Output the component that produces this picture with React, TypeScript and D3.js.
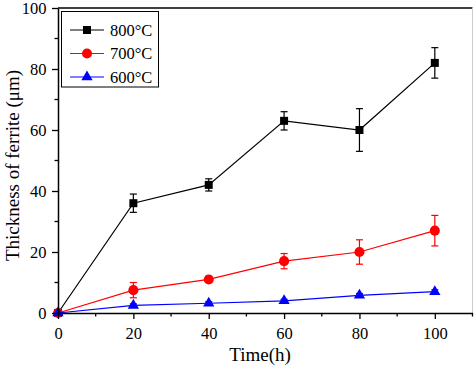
import React, { useEffect, useRef } from "react";
import * as d3 from "d3";

const times = [0, 20, 40, 60, 80, 100];
const t800 = [0, 36, 42, 63, 60, 82];
const e800 = [0, 3, 2, 3, 7, 5];
const t700 = [0, 7.5, 11, 17, 20, 27];
const e700 = [0, 2.5, 1, 2.5, 4, 5];
const t600 = [0, 2.5, 3.2, 4, 5.8, 7];
const e600 = [0, 0.5, 0.5, 0.5, 0.6, 0.6];
const xTicks = [0, 20, 40, 60, 80, 100];
const yTicks = [0, 20, 40, 60, 80, 100];

const series = [
  { name: "800°C", values: t800, errors: e800, color: "#000000", symbol: "square" },
  { name: "700°C", values: t700, errors: e700, color: "#ff0000", symbol: "circle" },
  { name: "600°C", values: t600, errors: e600, color: "#0000ff", symbol: "triangle" },
];

const App = () => {
  const ref = useRef<SVGSVGElement>(null);

  useEffect(() => {
    const svg = d3.select(ref.current);
    svg.selectAll("*").remove();

    const width = 474;
    const height = 367;
    const m = { left: 58, right: 1.5, top: 8, bottom: 54 };
    const font = "'Liberation Serif', 'Times New Roman', serif";

    const x = d3.scaleLinear().domain([0, 110]).range([m.left, width - m.right]);
    const y = d3.scaleLinear().domain([0, 100]).range([height - m.bottom, m.top]);

    svg.attr("viewBox", `0 0 ${width} ${height}`).style("font-family", font);

    // frame
    svg.append("line")
      .attr("x1", m.left).attr("x2", width - m.right)
      .attr("y1", m.top).attr("y2", m.top)
      .attr("stroke", "#000").attr("stroke-width", 1.5);
    svg.append("line")
      .attr("x1", width - m.right).attr("x2", width - m.right)
      .attr("y1", m.top).attr("y2", height - m.bottom)
      .attr("stroke", "#ccc").attr("stroke-width", 1);

    const symbol = (s: string) =>
      s === "square" ? d3.symbolSquare : s === "circle" ? d3.symbolCircle : d3.symbolTriangle;
    const symSize = (s: string) => (s === "square" ? 64 : s === "circle" ? 80 : 55);

    const line = d3.line<number>()
      .x((d, i) => x(times[i]))
      .y(d => y(d));

    series.forEach(s => {
      const g = svg.append("g");
      g.append("path")
        .datum(s.values)
        .attr("d", line)
        .attr("fill", "none")
        .attr("stroke", s.color)
        .attr("stroke-width", 1.2);

      s.values.forEach((v, i) => {
        const e = s.errors[i];
        if (e > 0) {
          const cx = x(times[i]);
          g.append("line")
            .attr("x1", cx).attr("x2", cx)
            .attr("y1", y(v - e)).attr("y2", y(v + e))
            .attr("stroke", s.color).attr("stroke-width", 1.2);
          [v - e, v + e].forEach(b => {
            g.append("line")
              .attr("x1", cx - 3.5).attr("x2", cx + 3.5)
              .attr("y1", y(b)).attr("y2", y(b))
              .attr("stroke", s.color).attr("stroke-width", 1.2);
          });
        }
        g.append("path")
          .attr("d", d3.symbol().type(symbol(s.symbol)).size(symSize(s.symbol))())
          .attr("transform", `translate(${x(times[i])},${y(v)})`)
          .attr("fill", s.color);
      });
    });

    // axes
    const xAxis = svg.append("g")
      .attr("transform", `translate(0,${height - m.bottom})`)
      .call(d3.axisBottom(x).tickValues(xTicks).tickSize(6).tickSizeOuter(0));
    xAxis.append("g").selectAll("line")
      .data(d3.range(10, 111, 20))
      .join("line")
      .attr("x1", d => x(d)).attr("x2", d => x(d))
      .attr("y1", 0).attr("y2", 3.5)
      .attr("stroke", "#000").attr("stroke-width", 1.3);

    const yAxis = svg.append("g")
      .attr("transform", `translate(${m.left},0)`)
      .call(d3.axisLeft(y).tickValues(yTicks).tickSize(6).tickSizeOuter(0));
    yAxis.append("g").selectAll("line")
      .data(d3.range(10, 100, 20))
      .join("line")
      .attr("y1", d => y(d)).attr("y2", d => y(d))
      .attr("x1", 0).attr("x2", -3.5)
      .attr("stroke", "#000").attr("stroke-width", 1.3);

    [xAxis, yAxis].forEach(a => {
      a.attr("font-family", null).attr("font-size", null);
      a.select(".domain").attr("stroke-width", 1.5);
      a.selectAll(".tick line").attr("stroke-width", 1.3);
      a.selectAll("text")
        .style("font-family", font)
        .style("font-size", "16.5px")
        .attr("fill", "#000");
    });
    xAxis.selectAll(".tick text").attr("dy", "1em");
    yAxis.selectAll(".tick text").attr("dx", "-0.15em").attr("dy", "0.36em");

    svg.append("text")
      .attr("x", 260)
      .attr("y", height - 6)
      .attr("text-anchor", "middle")
      .style("font-family", font)
      .style("font-size", "19px")
      .text("Time(h)");

    svg.append("text")
      .attr("transform", `translate(19,${(m.top + height - m.bottom) / 2 + 5}) rotate(-90)`)
      .attr("text-anchor", "middle")
      .style("font-family", font)
      .style("font-size", "19px")
      .text("Thickness of ferrite (μm)");

    // legend
    const lg = svg.append("g");
    lg.append("rect")
      .attr("x", 61.5).attr("y", 11.5)
      .attr("width", 97).attr("height", 75.5)
      .attr("fill", "#fff").attr("stroke", "#000").attr("stroke-width", 1);
    series.forEach((s, i) => {
      const ly = 30 + i * 23.5;
      lg.append("line")
        .attr("x1", 70).attr("x2", 104)
        .attr("y1", ly).attr("y2", ly)
        .attr("stroke", s.color).attr("stroke-width", 1.2);
      lg.append("path")
        .attr("d", d3.symbol().type(symbol(s.symbol)).size(symSize(s.symbol))())
        .attr("transform", `translate(87,${ly})`)
        .attr("fill", s.color);
      lg.append("text")
        .attr("x", 110).attr("y", ly)
        .attr("dy", "0.35em")
        .style("font-family", font)
        .style("font-size", "16.5px")
        .text(s.name);
    });
  }, []);

  return <svg ref={ref} width={474} height={367} style={{ display: "block", position: "absolute", left: 0, top: 0 }} />;
};

export default App;
